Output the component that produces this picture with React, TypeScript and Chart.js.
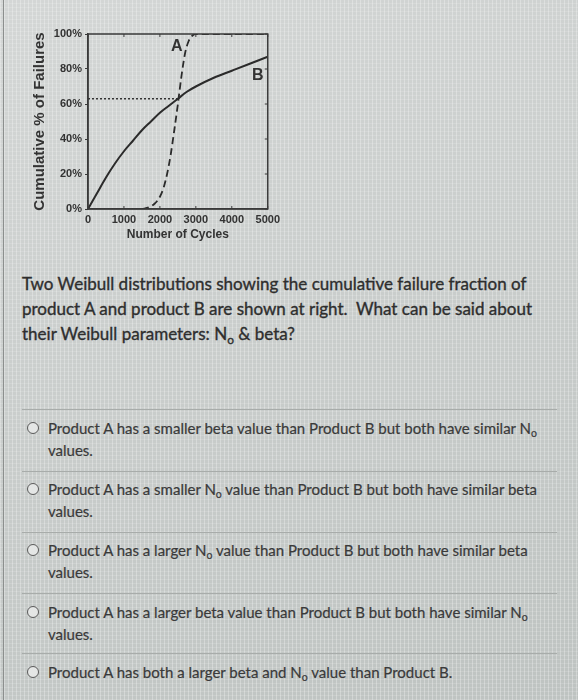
import { useEffect, useRef } from 'react';
import { Chart, registerables } from 'chart.js';

Chart.register(...registerables);

// product B (solid curve)
const cyclesB = [0, 250, 500, 750, 1000, 1250, 1500, 1750, 2000, 2250, 2500, 2750, 3000, 3500, 4000, 4500, 5000];
const failB = [0, 9, 18, 26, 33, 39, 45, 50, 55, 59, 63, 67, 70, 75, 79, 83, 87];

// product A (dashed curve)
const cyclesA = [1500, 1700, 1850, 2000, 2100, 2200, 2300, 2400, 2500, 2600, 2700, 2800, 2900, 3000, 5000];
const failA = [0, 1, 3, 7, 12, 20, 31, 45, 60, 76, 89, 96, 99, 100, 100];

// dotted reference line at ~63%
const refCycles = [0, 2500];
const refFail = [63, 63];

// curve labels
const curveLabels = [
  { text: 'A', x: 2470, y: 93 },
  { text: 'B', x: 4720, y: 76 },
];

const xTicks = [0, 1000, 2000, 3000, 4000, 5000];
const yTicks = [0, 20, 40, 60, 80, 100];

const options = [
  { pre: 'Product A has a smaller beta value than Product B but both have similar N', post: '', second: 'values.' },
  { pre: 'Product A has a smaller N', post: ' value than Product B but both have similar beta', second: 'values.' },
  { pre: 'Product A has a larger N', post: ' value than Product B but both have similar beta', second: 'values.' },
  { pre: 'Product A has a larger beta value than Product B but both have similar N', post: '', second: 'values.' },
  { pre: 'Product A has both a larger beta and N', post: ' value than Product B.', second: '' },
];

const optionTops = [417, 478, 539, 601, 661];
const separatorTops = [409, 471, 532, 593, 653];

const ink = '#333';
const axisFont = { family: 'Liberation Sans, Arial, sans-serif', size: 11, weight: 'bold' as const };

const toPoints = (xs: number[], ys: number[]) => xs.map((x, i) => ({ x, y: ys[i] }));

// draws the top/right frame, inward ticks and the A / B labels
const framePlugin = {
  id: 'frame',
  afterDatasetsDraw(chart: any) {
    const { ctx, chartArea, scales } = chart;
    const { left, right, top, bottom } = chartArea;
    ctx.save();
    ctx.strokeStyle = '#3a3a3a';
    ctx.lineWidth = 1.5;
    ctx.strokeRect(left, top, right - left, bottom - top);
    ctx.lineWidth = 1;
    ctx.beginPath();
    xTicks.forEach((v) => {
      const px = scales.x.getPixelForValue(v);
      ctx.moveTo(px, top);
      ctx.lineTo(px, top + 3);
      ctx.moveTo(px, bottom);
      ctx.lineTo(px, bottom - 3);
    });
    yTicks.forEach((v) => {
      const py = scales.y.getPixelForValue(v);
      ctx.moveTo(right, py);
      ctx.lineTo(right - 3, py);
    });
    ctx.stroke();

    ctx.fillStyle = ink;
    ctx.font = 'bold 16px Liberation Sans, Arial, sans-serif';
    ctx.textAlign = 'center';
    ctx.textBaseline = 'middle';
    curveLabels.forEach((l) => {
      ctx.fillText(l.text, scales.x.getPixelForValue(l.x), scales.y.getPixelForValue(l.y));
    });
    ctx.restore();
  },
};

function WeibullChart() {
  const canvasRef = useRef<HTMLCanvasElement>(null);

  useEffect(() => {
    if (!canvasRef.current) return;
    const chart = new Chart(canvasRef.current, {
      type: 'line',
      data: {
        datasets: [
          {
            label: 'B',
            data: toPoints(cyclesB, failB),
            borderColor: '#2b2b2b',
            borderWidth: 2,
            pointRadius: 0,
            cubicInterpolationMode: 'monotone',
          },
          {
            label: 'A',
            data: toPoints(cyclesA, failA),
            borderColor: '#2b2b2b',
            borderWidth: 1.8,
            borderDash: [7, 4],
            pointRadius: 0,
            cubicInterpolationMode: 'monotone',
          },
          {
            label: 'ref',
            data: toPoints(refCycles, refFail),
            borderColor: '#333',
            borderWidth: 1.5,
            borderDash: [2, 2],
            pointRadius: 0,
          },
        ],
      },
      options: {
        animation: false,
        responsive: false,
        layout: { padding: { top: 12, right: 13, left: 0, bottom: 0 } },
        plugins: {
          legend: { display: false },
          tooltip: { enabled: false },
        },
        scales: {
          x: {
            type: 'linear',
            min: 0,
            max: 5000,
            afterFit: (scale: any) => { scale.height = 35; },
            afterBuildTicks: (scale: any) => { scale.ticks = xTicks.map((value) => ({ value })); },
            grid: { display: false, drawTicks: false },
            border: { color: '#3a3a3a', width: 1.5 },
            ticks: { color: ink, font: axisFont, padding: 4, maxRotation: 0, callback: (v: any) => String(v) },
            title: {
              display: true,
              text: 'Number of Cycles',
              color: ink,
              font: { family: 'Liberation Sans, Arial, sans-serif', size: 12, weight: 'bold' },
              padding: { top: 0, bottom: 2 },
            },
          },
          y: {
            min: 0,
            max: 100,
            afterFit: (scale: any) => { scale.width = 60; },
            afterBuildTicks: (scale: any) => { scale.ticks = yTicks.map((value) => ({ value })); },
            grid: { drawOnChartArea: false, tickLength: 3, color: '#3a3a3a' },
            border: { color: '#3a3a3a', width: 1.5 },
            ticks: { color: ink, font: axisFont, padding: 3, callback: (v: any) => v + '%' },
            title: {
              display: true,
              text: 'Cumulative % of Failures',
              color: ink,
              font: { family: 'Liberation Sans, Arial, sans-serif', size: 15, weight: 'bold' },
              padding: { top: 3, bottom: 0 },
            },
          },
        },
      },
      plugins: [framePlugin],
    });
    return () => chart.destroy();
  }, []);

  return (
    <canvas
      ref={canvasRef}
      width={256}
      height={222}
      style={{ position: 'absolute', left: 28, top: 22, width: 256, height: 222 }}
    />
  );
}

const Sub = () => (
  <span style={{ fontSize: '0.7em', verticalAlign: '-0.3em', lineHeight: 0 }}>o</span>
);

export default function App() {
  useEffect(() => {
    document.body.style.margin = '0';
  }, []);

  return (
    <div
      style={{
        position: 'relative',
        width: 578,
        height: 700,
        overflow: 'hidden',
        backgroundColor: '#d0d3d2',
        backgroundImage:
          'repeating-linear-gradient(90deg, rgba(255,255,255,0.28) 0 1px, transparent 1px 4px), repeating-linear-gradient(0deg, rgba(255,255,255,0.14) 0 1px, transparent 1px 4px), linear-gradient(160deg, rgba(255,255,255,0.08), rgba(60,80,70,0.12))',
        fontFamily: 'Lato, sans-serif',
        color: ink,
      }}
    >
      <div style={{ position: 'absolute', left: 3, top: 0, width: 1, height: 700, background: '#8c8f8e' }} />
      <WeibullChart />

      <div
        style={{
          position: 'absolute',
          left: 22,
          top: 271,
          fontSize: 17,
          lineHeight: '25px',
          whiteSpace: 'nowrap',
          color: '#2e2e2e',
          WebkitTextStroke: '0.35px #2e2e2e',
        }}
      >
        Two Weibull distributions showing the cumulative failure fraction of
        <br />
        product A and product B are shown at right.&nbsp; What can be said about
        <br />
        their Weibull parameters: N<Sub /> &amp; beta?
      </div>

      {separatorTops.map((t) => (
        <div key={t} style={{ position: 'absolute', left: 22, top: t, width: 535, height: 1, background: '#a8acaa' }} />
      ))}

      {options.map((o, i) => (
        <div key={i} style={{ position: 'absolute', left: 0, top: optionTops[i], width: 578 }}>
          <div
            style={{
              position: 'absolute',
              left: 27,
              top: 5,
              width: 10,
              height: 10,
              borderRadius: '50%',
              border: '1.3px solid #5a5a5a',
              background: '#e4e6e5',
            }}
          />
          <div
            style={{
              position: 'absolute',
              left: 48,
              top: 0,
              fontSize: 15,
              lineHeight: '22px',
              whiteSpace: 'nowrap',
              color: '#3a3a3a',
              WebkitTextStroke: '0.2px #3a3a3a',
            }}
          >
            {o.pre}
            <Sub />
            {o.post}
            {o.second && (
              <>
                <br />
                {o.second}
              </>
            )}
          </div>
        </div>
      ))}
    </div>
  );
}
